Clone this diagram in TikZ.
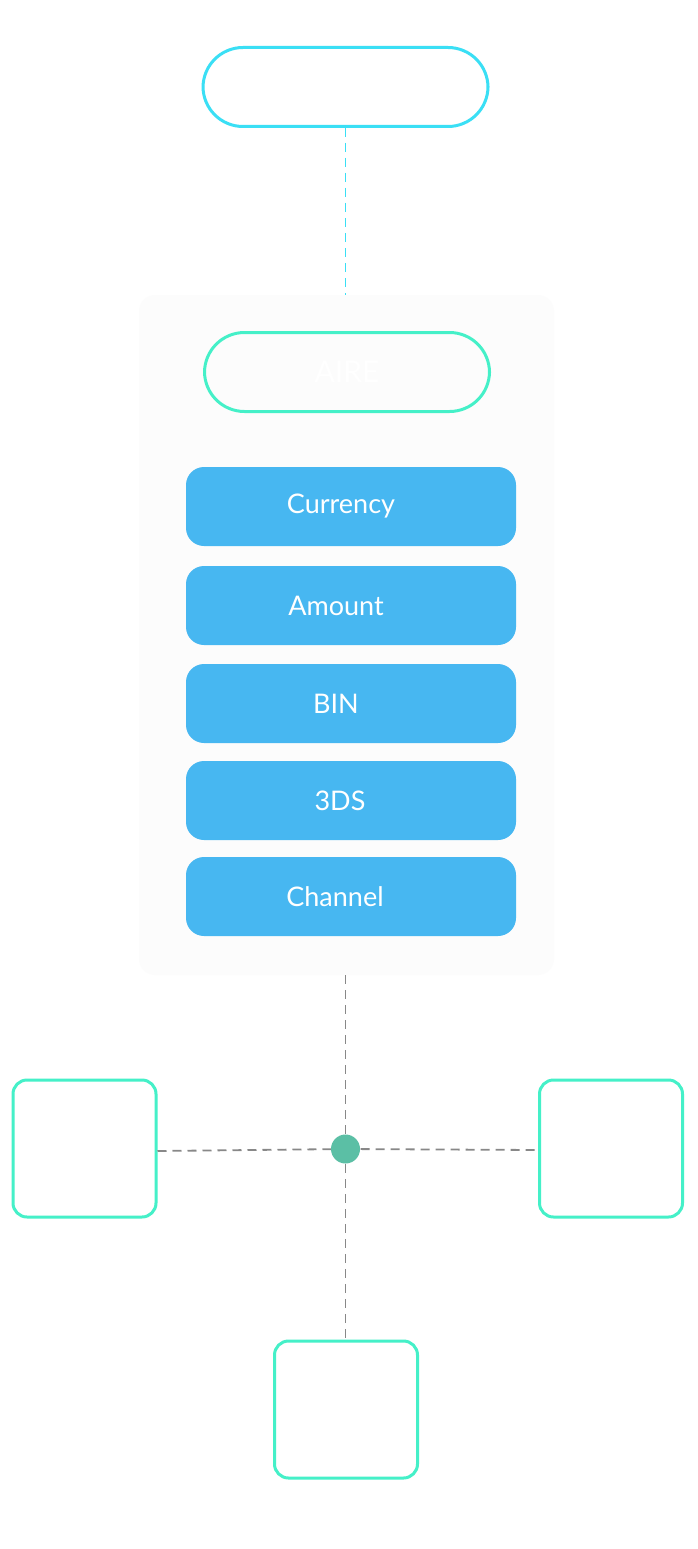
\documentclass[tikz,border=0pt]{standalone}
\usepackage{fontspec}
\setmainfont{Lato}
\definecolor{cyanline}{HTML}{3ADFF5}
\definecolor{tealline}{HTML}{45F0C8}
\definecolor{boxblue}{HTML}{47B7F1}
\definecolor{panelgray}{HTML}{FCFCFC}
\definecolor{dashgray}{HTML}{888888}
\definecolor{hubgreen}{HTML}{5BBFA5}
\begin{document}
\begin{tikzpicture}[x=1pt,y=-1pt,
  pill/.style={draw=#1,line width=3pt,rounded corners=40pt,minimum width=285pt,minimum height=79pt,inner sep=0pt,text=white,font=\fontsize{30}{32}\selectfont},
  fieldbox/.style={fill=boxblue,rounded corners=18pt,minimum width=330pt,minimum height=79pt,inner sep=0pt},
  fieldtext/.style={text=white,font=\fontsize{27}{29}\selectfont,inner sep=0pt},
  acqbox/.style={draw=tealline,line width=3pt,rounded corners=14pt,minimum width=143pt,minimum height=137pt,inner sep=0pt,text=white,font=\fontsize{22}{24}\selectfont},
  dashlink/.style={dashed,dash pattern=on 9pt off 6pt,line width=1.8pt,draw=dashgray}]
\useasboundingbox (0,0) rectangle (697,1549);
\fill[white] (0,0) rectangle (697,1549);
% panel
\node[fill=panelgray,rounded corners=16pt,minimum width=415pt,minimum height=680pt,inner sep=0pt] (panel) at (346.5,635) {};
% top pill
\node[pill=cyanline] (txn) at (345.5,87) {Txn Req};
\draw[draw=cyanline,dash pattern=on 9pt off 6pt,line width=1.5pt] (txn.south) -- (txn.south |- panel.north);
% AIRE
\node[pill=tealline] (aire) at (347,372) {AIRE};
% field boxes
\node[fieldbox] (cur) at (351,506.5) {};
\node[fieldtext] at (341,506.5) {Currency};
\node[fieldbox] (amt) at (351,605.5) {};
\node[fieldtext] at (336,605.5) {Amount};
\node[fieldbox] (bin) at (351,703.5) {};
\node[fieldtext] at (336,703.5) {BIN};
\node[fieldbox] (tds) at (351,800.5) {};
\node[fieldtext] at (340,800.5) {3DS};
\node[fieldbox] (chn) at (351,896.5) {};
\node[fieldtext] at (335,896.5) {Channel};
% acquirers
\node[acqbox] (a1) at (84.5,1148.5) {Acq 01};
\node[acqbox] (a2) at (611,1148.5) {Acq 02};
\node[acqbox] (a3) at (346,1409.5) {Acq 03};
% hub
\coordinate (hub) at (345.5,1149);
\draw[dashlink] (panel.south -| hub) -- (hub);
\draw[dashlink] (hub) -- (a3.north -| hub);
\draw[dashlink] ([yshift=-2.5pt]a1.east) -- (hub);
\draw[dashlink] (hub) -- ([yshift=-1.5pt]a2.west);
\fill[hubgreen] (hub) circle (14.5pt);
\end{tikzpicture}
\end{document}
